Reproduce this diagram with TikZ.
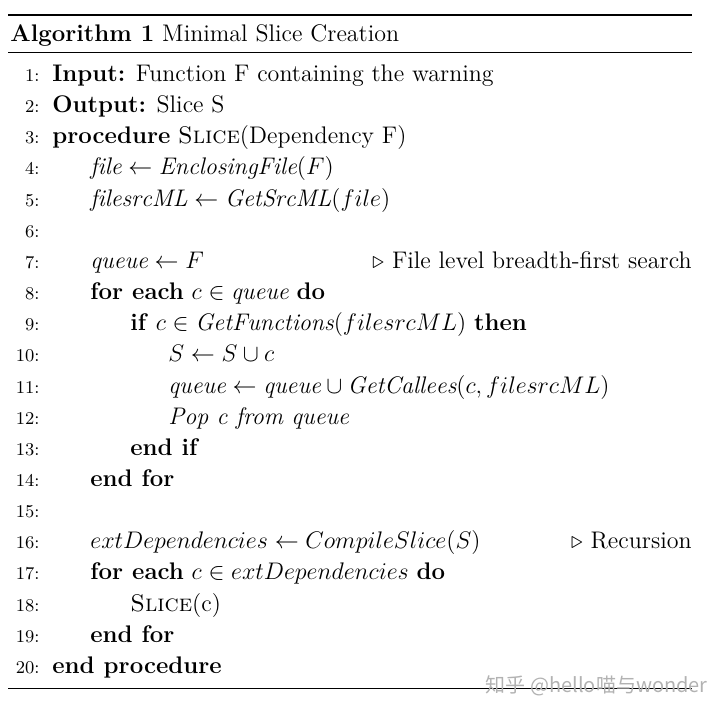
\documentclass[tikz,border=0pt]{standalone}
\usepackage{fontspec}
\newfontfamily\cjk{Noto Sans CJK SC}
\begin{document}
\begin{tikzpicture}[x=0.5pt,y=-0.5pt,
  ln/.style={anchor=base east,inner sep=0pt,font=\fontsize{9}{11}\selectfont},
  tx/.style={anchor=base west,inner sep=0pt,font=\fontsize{12}{14}\selectfont},
  cmt/.style={anchor=base east,inner sep=0pt,font=\fontsize{12}{14}\selectfont}]
\useasboundingbox (0,0) rectangle (727,714);
\draw[line width=1.3pt] (8,15) -- (692,15);
\draw[line width=0.5pt] (8,52) -- (692,52);
\draw[line width=0.5pt] (8,688) -- (692,688);
\node[tx] (cap) at (10,41) {\textbf{Algorithm 1} Minimal Slice Creation};
\foreach \k in {1,...,20}{\node[ln] (n\k) at (40,{81.5+(\k-1)*31.15}) {\k:};}
\def\Y#1{{81.5+(#1-1)*31.15}}
\node[tx] (l1) at (52,\Y1) {\textbf{Input:} Function F containing the warning};
\node[tx] (l2) at (52,\Y2) {\textbf{Output:} Slice S};
\node[tx] (l3) at (52,\Y3) {\textbf{procedure} \textsc{Slice}(Dependency F)};
\node[tx] (l4) at (90,\Y4) {$\mathit{file} \leftarrow \mathit{EnclosingFile}(F)$};
\node[tx] (l5) at (90,\Y5) {$\mathit{filesrcML} \leftarrow \mathit{GetSrcML}(file)$};
\node[tx] (l7) at (90,\Y7) {$\mathit{queue} \leftarrow F$};
\node[cmt] (c7) at (692,\Y7) {$\triangleright$ File level breadth-first search};
\node[tx] (l8) at (90,\Y8) {\textbf{for each} $c \in \mathit{queue}$ \textbf{do}};
\node[tx] (l9) at (130,\Y9) {\textbf{if} $c \in \mathit{GetFunctions}(filesrcML)$ \textbf{then}};
\node[tx] (l10) at (168,\Y{10}) {$S \leftarrow S \cup c$};
\node[tx] (l11) at (168,\Y{11}) {$\mathit{queue} \leftarrow \mathit{queue} \cup \mathit{GetCallees}(c, filesrcML)$};
\node[tx] (l12) at (168,\Y{12}) {\itshape Pop c from queue};
\node[tx] (l13) at (130,\Y{13}) {\textbf{end if}};
\node[tx] (l14) at (90,\Y{14}) {\textbf{end for}};
\node[tx] (l16) at (90,\Y{16}) {$extDependencies \leftarrow CompileSlice(S)$};
\node[cmt] (c16) at (692,\Y{16}) {$\triangleright$ Recursion};
\node[tx] (l17) at (90,\Y{17}) {\textbf{for each} $c \in extDependencies$ \textbf{do}};
\node[tx] (l18) at (130,\Y{18}) {\textsc{Slice}(c)};
\node[tx] (l19) at (90,\Y{19}) {\textbf{end for}};
\node[tx] (l20) at (52,\Y{20}) {\textbf{end procedure}};
\node[anchor=base east,inner sep=0pt,text=gray!60,font=\cjk\fontsize{10}{12}\selectfont] (wm) at (708,692) {知乎 @hello喵与wonder};
\end{tikzpicture}
\end{document}
